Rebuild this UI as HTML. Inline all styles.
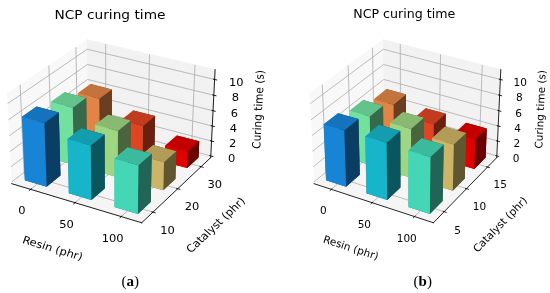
<!DOCTYPE html>
<html><head><meta charset="utf-8"><style>
html,body{margin:0;padding:0;background:#fff;}
body{width:550px;height:293px;position:relative;overflow:hidden;}
svg.p{position:absolute;overflow:visible;}
.lab{position:absolute;font-family:"Liberation Serif","DejaVu Serif",serif;font-size:15px;line-height:1;color:#000;white-space:nowrap;}
.lab b{font-weight:bold;}
</style></head><body>
<svg class="p" style="left:-119.24px;top:-80.76px;width:457.96px;height:421.52px" preserveAspectRatio="none" width="457.96" height="421.52" viewBox="0 0 400 400" version="1.1">
 
 <defs>
  <style type="text/css">*{stroke-linejoin: round; stroke-linecap: butt}</style>
 </defs>
 <g id="a_figure_1">
  <g id="a_pane3d_1">
   <g id="a_patch_1">
    <path d="M 114.252393 251.193274 
L 180.95939 195.278146 
L 180.032099 114.638536 
L 110.132828 165.64784 
" style="fill: #f2f2f2; opacity: 0.5; stroke: #f2f2f2; stroke-linejoin: miter"/>
   </g>
  </g>
  <g id="a_pane3d_2">
   <g id="a_patch_2">
    <path d="M 180.95939 195.278146 
L 288.000319 226.390718 
L 291.820233 142.973569 
L 180.032099 114.638536 
" style="fill: #e6e6e6; opacity: 0.5; stroke: #e6e6e6; stroke-linejoin: miter"/>
   </g>
  </g>
  <g id="a_pane3d_3">
   <g id="a_patch_3">
    <path d="M 114.252393 251.193274 
L 227.721006 288.252122 
L 288.000319 226.390718 
L 180.95939 195.278146 
" style="fill: #ececec; opacity: 0.5; stroke: #ececec; stroke-linejoin: miter"/>
   </g>
  </g>
  <g id="a_grid3d_1">
   <g id="a_Line3DCollection_1">
    <path d="M 130.62309 256.539943 
L 196.46117 199.783901 
L 196.192169 118.734643 
" style="fill: none; stroke: #b0b0b0; stroke-width: 0.8"/>
    <path d="M 169.491011 269.234206 
L 233.186965 210.45864 
L 234.516976 128.448864 
" style="fill: none; stroke: #b0b0b0; stroke-width: 0.8"/>
    <path d="M 209.816583 282.404538 
L 271.172841 221.499635 
L 274.215176 138.511201 
" style="fill: none; stroke: #b0b0b0; stroke-width: 0.8"/>
   </g>
  </g>
  <g id="a_grid3d_2">
   <g id="a_Line3DCollection_2">
    <path d="M 121.503754 157.349856 
L 125.069555 242.126114 
L 237.532071 278.183556 
" style="fill: none; stroke: #b0b0b0; stroke-width: 0.8"/>
    <path d="M 146.637346 139.008506 
L 149.026559 222.044878 
L 259.210845 255.935801 
" style="fill: none; stroke: #b0b0b0; stroke-width: 0.8"/>
    <path d="M 170.256598 121.772252 
L 171.599821 203.123523 
L 279.57466 235.037517 
" style="fill: none; stroke: #b0b0b0; stroke-width: 0.8"/>
   </g>
  </g>
  <g id="a_grid3d_3">
   <g id="a_Line3DCollection_3">
    <path d="M 288.073504 224.792538 
L 180.941587 193.729978 
L 114.173597 249.557026 
" style="fill: none; stroke: #b0b0b0; stroke-width: 0.8"/>
    <path d="M 288.717585 210.727459 
L 180.784974 180.110446 
L 113.47992 235.152372 
" style="fill: none; stroke: #b0b0b0; stroke-width: 0.8"/>
    <path d="M 289.371462 196.44847 
L 180.626092 166.293701 
L 112.77529 220.520268 
" style="fill: none; stroke: #b0b0b0; stroke-width: 0.8"/>
    <path d="M 290.035359 181.950654 
L 180.464893 152.275429 
L 112.059445 205.655284 
" style="fill: none; stroke: #b0b0b0; stroke-width: 0.8"/>
    <path d="M 290.709509 167.228942 
L 180.301326 138.051187 
L 111.332115 190.551815 
" style="fill: none; stroke: #b0b0b0; stroke-width: 0.8"/>
    <path d="M 291.394151 152.278107 
L 180.135337 123.616404 
L 110.593023 175.204075 
" style="fill: none; stroke: #b0b0b0; stroke-width: 0.8"/>
   </g>
  </g>
  <g id="a_axis3d_1">
   <g id="a_line2d_1">
    <path d="M 114.252393 251.193274 
L 227.721006 288.252122 
" style="fill: none; stroke: #000000; stroke-width: 0.8; stroke-linecap: square"/>
   </g>
   <g id="a_xtick_1">
    <g id="a_line2d_2">
     <path d="M 131.196615 256.045533 
L 129.473569 257.530894 
" style="fill: none; stroke: #000000; stroke-width: 0.8; stroke-linecap: square"/>
    </g>
    <g id="a_text_1">
     <text style="font-size: 10px; font-family: 'DejaVu Sans', sans-serif; text-anchor: middle" x="123.097701" y="279.954349" transform="rotate(-0 123.097701 279.954349)">0</text>
    </g>
   </g>
   <g id="a_xtick_2">
    <g id="a_line2d_3">
     <path d="M 170.046709 268.721435 
L 168.377177 270.261999 
" style="fill: none; stroke: #000000; stroke-width: 0.8; stroke-linecap: square"/>
    </g>
    <g id="a_text_2">
     <text style="font-size: 10px; font-family: 'DejaVu Sans', sans-serif; text-anchor: middle" x="162.021384" y="293.004861" transform="rotate(-0 162.021384 293.004861)">50</text>
    </g>
   </g>
   <g id="a_xtick_3">
    <g id="a_line2d_4">
     <path d="M 210.352701 281.872364 
L 208.741949 283.471266 
" style="fill: none; stroke: #000000; stroke-width: 0.8; stroke-linecap: square"/>
    </g>
    <g id="a_text_3">
     <text style="font-size: 10px; font-family: 'DejaVu Sans', sans-serif; text-anchor: middle" x="202.412269" y="306.547304" transform="rotate(-0 202.412269 306.547304)">100</text>
    </g>
   </g>
   <g id="a_text_4">
    <text style="font-size: 10px; font-family: 'DejaVu Sans', sans-serif; text-anchor: middle" x="148.937" y="315.716" transform="rotate(-341.912962 148.937 315.716)">Resin (phr)</text>
   </g>
  </g>
  <g id="a_axis3d_2">
   <g id="a_line2d_5">
    <path d="M 288.000319 226.390718 
L 227.721006 288.252122 
" style="fill: none; stroke: #000000; stroke-width: 0.8; stroke-linecap: square"/>
   </g>
   <g id="a_xtick_4">
    <g id="a_line2d_6">
     <path d="M 236.584734 277.879823 
L 239.429176 278.791801 
" style="fill: none; stroke: #000000; stroke-width: 0.8; stroke-linecap: square"/>
    </g>
    <g id="a_text_5">
     <text style="font-size: 10px; font-family: 'DejaVu Sans', sans-serif; text-anchor: middle" x="250.315498" y="299.094854" transform="rotate(-0 250.315498 299.094854)">10</text>
    </g>
   </g>
   <g id="a_xtick_5">
    <g id="a_line2d_7">
     <path d="M 258.284158 255.650766 
L 261.066523 256.506577 
" style="fill: none; stroke: #000000; stroke-width: 0.8; stroke-linecap: square"/>
    </g>
    <g id="a_text_6">
     <text style="font-size: 10px; font-family: 'DejaVu Sans', sans-serif; text-anchor: middle" x="271.610579" y="276.413533" transform="rotate(-0 271.610579 276.413533)">20</text>
    </g>
   </g>
   <g id="a_xtick_6">
    <g id="a_line2d_8">
     <path d="M 278.667898 234.769506 
L 281.390369 235.574184 
" style="fill: none; stroke: #000000; stroke-width: 0.8; stroke-linecap: square"/>
    </g>
    <g id="a_text_7">
     <text style="font-size: 10px; font-family: 'DejaVu Sans', sans-serif; text-anchor: middle" x="291.613024" y="255.108993" transform="rotate(-0 291.613024 255.108993)">30</text>
    </g>
   </g>
   <g id="a_text_8">
    <text style="font-size: 10px; font-family: 'DejaVu Sans', sans-serif; text-anchor: middle" x="294.718" y="292.812" transform="rotate(-45.742112 294.718 292.812)">Catalyst (phr)</text>
   </g>
  </g>
  <g id="a_axis3d_3">
   <g id="a_line2d_9">
    <path d="M 288.000319 226.390718 
L 291.820233 142.973569 
" style="fill: none; stroke: #000000; stroke-width: 0.8; stroke-linecap: square"/>
   </g>
   <g id="a_xtick_7">
    <g id="a_line2d_10">
     <path d="M 287.174336 224.531827 
L 289.873981 225.31458 
" style="fill: none; stroke: #000000; stroke-width: 0.8; stroke-linecap: square"/>
    </g>
    <g id="a_text_9">
     <text style="font-size: 10px; font-family: 'DejaVu Sans', sans-serif; text-anchor: middle" x="306.320" y="230.599" transform="rotate(-0 306.320 230.599)">0</text>
    </g>
   </g>
   <g id="a_xtick_8">
    <g id="a_line2d_11">
     <path d="M 287.811377 210.470397 
L 290.532175 211.2422 
" style="fill: none; stroke: #000000; stroke-width: 0.8; stroke-linecap: square"/>
    </g>
    <g id="a_text_10">
     <text style="font-size: 10px; font-family: 'DejaVu Sans', sans-serif; text-anchor: middle" x="307.099" y="216.571" transform="rotate(-0 307.099 216.571)">2</text>
    </g>
   </g>
   <g id="a_xtick_9">
    <g id="a_line2d_12">
     <path d="M 288.458102 196.195198 
L 291.200388 196.955626 
" style="fill: none; stroke: #000000; stroke-width: 0.8; stroke-linecap: square"/>
    </g>
    <g id="a_text_11">
     <text style="font-size: 10px; font-family: 'DejaVu Sans', sans-serif; text-anchor: middle" x="307.889" y="202.329" transform="rotate(-0 307.889 202.329)">4</text>
    </g>
   </g>
   <g id="a_xtick_10">
    <g id="a_line2d_13">
     <path d="M 289.114734 181.701319 
L 291.87885 182.449931 
" style="fill: none; stroke: #000000; stroke-width: 0.8; stroke-linecap: square"/>
    </g>
    <g id="a_text_12">
     <text style="font-size: 10px; font-family: 'DejaVu Sans', sans-serif; text-anchor: middle" x="308.692" y="187.871" transform="rotate(-0 308.692 187.871)">6</text>
    </g>
   </g>
   <g id="a_xtick_11">
    <g id="a_line2d_14">
     <path d="M 289.781503 166.983696 
L 292.567798 167.720035 
" style="fill: none; stroke: #000000; stroke-width: 0.8; stroke-linecap: square"/>
    </g>
    <g id="a_text_13">
     <text style="font-size: 10px; font-family: 'DejaVu Sans', sans-serif; text-anchor: middle" x="309.507" y="173.190" transform="rotate(-0 309.507 173.190)">8</text>
    </g>
   </g>
   <g id="a_xtick_12">
    <g id="a_line2d_15">
     <path d="M 290.458644 152.037108 
L 293.267477 152.7607 
" style="fill: none; stroke: #000000; stroke-width: 0.8; stroke-linecap: square"/>
    </g>
    <g id="a_text_14">
     <text style="font-size: 10px; font-family: 'DejaVu Sans', sans-serif; text-anchor: middle" x="310.334" y="158.282" transform="rotate(-0 310.334 158.282)">10</text>
    </g>
   </g>
   <g id="a_text_15">
    <text style="font-size: 10px; font-family: 'DejaVu Sans', sans-serif; text-anchor: middle" x="332.916" y="180.799" transform="rotate(-87.378092 332.916 180.799)">Curing time (s)</text>
   </g>
  </g>
  <g id="a_axes_1">
   <g id="a_Poly3DCollection_1">
    <path d="M 172.648293 208.14711 
L 183.55725 198.91806 
L 201.693671 204.213772 
L 190.95904 213.599271 
z
" clip-path="url(#a_p4ff11a3262)" style="fill: #88502a"/>
    <path d="M 183.55725 198.91806 
L 183.128468 156.659012 
L 201.670302 161.712116 
L 201.693671 204.213772 
z
" clip-path="url(#a_p4ff11a3262)" style="fill: #6a3e21"/>
    <path d="M 172.648293 208.14711 
L 171.965492 165.466485 
L 183.128468 156.659012 
L 183.55725 198.91806 
z
" clip-path="url(#a_p4ff11a3262)" style="fill: #e18446"/>
    <path d="M 190.95904 213.599271 
L 201.693671 204.213772 
L 201.670302 161.712116 
L 190.689541 170.6723 
z
" clip-path="url(#a_p4ff11a3262)" style="fill: #6a3e21"/>
    <path d="M 209.583814 219.144936 
L 220.136576 209.598976 
L 238.893799 215.075958 
L 228.53076 224.786531 
z
" clip-path="url(#a_p4ff11a3262)" style="fill: #882915"/>
    <path d="M 220.136576 209.598976 
L 220.395761 181.622722 
L 239.436934 186.939984 
L 238.893799 215.075958 
z
" clip-path="url(#a_p4ff11a3262)" style="fill: #6a2010"/>
    <path d="M 172.648293 208.14711 
L 190.95904 213.599271 
L 190.689541 170.6723 
L 171.965492 165.466485 
z
" clip-path="url(#a_p4ff11a3262)" style="fill: #e18446"/>
    <path d="M 209.583814 219.144936 
L 209.687408 190.891176 
L 220.395761 181.622722 
L 220.136576 209.598976 
z
" clip-path="url(#a_p4ff11a3262)" style="fill: #e14423"/>
    <path d="M 171.965492 165.466485 
L 190.689541 170.6723 
L 201.670302 161.712116 
L 183.128468 156.659012 
z
" clip-path="url(#a_p4ff11a3262)" style="fill: #c3733c"/>
    <path d="M 228.53076 224.786531 
L 238.893799 215.075958 
L 239.436934 186.939984 
L 228.924149 196.370694 
z
" clip-path="url(#a_p4ff11a3262)" style="fill: #6a2010"/>
    <path d="M 149.845889 227.438093 
L 161.416035 217.649673 
L 179.903531 223.265321 
L 168.512537 233.224691 
z
" clip-path="url(#a_p4ff11a3262)" style="fill: #458860"/>
    <path d="M 257.973446 220.647086 
L 258.425307 205.369275 
L 277.999866 210.950223 
L 277.383901 226.314807 
z
" clip-path="url(#a_p4ff11a3262)" style="fill: #6a0000"/>
    <path d="M 209.583814 219.144936 
L 228.53076 224.786531 
L 228.924149 196.370694 
L 209.687408 190.891176 
z
" clip-path="url(#a_p4ff11a3262)" style="fill: #e14423"/>
    <path d="M 209.687408 190.891176 
L 228.924149 196.370694 
L 239.436934 186.939984 
L 220.395761 181.622722 
z
" clip-path="url(#a_p4ff11a3262)" style="fill: #c33b1e"/>
    <path d="M 247.808313 230.526565 
L 248.182647 215.09801 
L 258.425307 205.369275 
L 257.973446 220.647086 
z
" clip-path="url(#a_p4ff11a3262)" style="fill: #e10000"/>
    <path d="M 247.808313 230.526565 
L 257.973446 220.647086 
L 277.383901 226.314807 
L 267.4252 236.36764 
z
" clip-path="url(#a_p4ff11a3262)" style="fill: #880000"/>
    <path d="M 161.416035 217.649673 
L 160.240232 164.405065 
L 179.248122 169.709312 
L 179.903531 223.265321 
z
" clip-path="url(#a_p4ff11a3262)" style="fill: #366a4b"/>
    <path d="M 149.845889 227.438093 
L 148.317503 173.652382 
L 160.240232 164.405065 
L 161.416035 217.649673 
z
" clip-path="url(#a_p4ff11a3262)" style="fill: #72e19f"/>
    <path d="M 248.182647 215.09801 
L 267.967202 220.85109 
L 277.999866 210.950223 
L 258.425307 205.369275 
z
" clip-path="url(#a_p4ff11a3262)" style="fill: #c30000"/>
    <path d="M 267.4252 236.36764 
L 277.383901 226.314807 
L 277.999866 210.950223 
L 267.967202 220.85109 
z
" clip-path="url(#a_p4ff11a3262)" style="fill: #6a0000"/>
    <path d="M 247.808313 230.526565 
L 267.4252 236.36764 
L 267.967202 220.85109 
L 248.182647 215.09801 
z
" clip-path="url(#a_p4ff11a3262)" style="fill: #e10000"/>
    <path d="M 187.509114 239.113567 
L 198.712863 228.978727 
L 217.85251 234.792468 
L 206.844445 245.107455 
z
" clip-path="url(#a_p4ff11a3262)" style="fill: #5f8150"/>
    <path d="M 168.512537 233.224691 
L 179.903531 223.265321 
L 179.248122 169.709312 
L 167.514717 179.122824 
z
" clip-path="url(#a_p4ff11a3262)" style="fill: #366a4b"/>
    <path d="M 198.712863 228.978727 
L 198.61929 185.661296 
L 218.207964 191.222393 
L 217.85251 234.792468 
z
" clip-path="url(#a_p4ff11a3262)" style="fill: #4a653e"/>
    <path d="M 149.845889 227.438093 
L 168.512537 233.224691 
L 167.514717 179.122824 
L 148.317503 173.652382 
z
" clip-path="url(#a_p4ff11a3262)" style="fill: #72e19f"/>
    <path d="M 187.509114 239.113567 
L 187.148991 195.357188 
L 198.61929 185.661296 
L 198.712863 228.978727 
z
" clip-path="url(#a_p4ff11a3262)" style="fill: #9ed684"/>
    <path d="M 148.317503 173.652382 
L 167.514717 179.122824 
L 179.248122 169.709312 
L 160.240232 164.405065 
z
" clip-path="url(#a_p4ff11a3262)" style="fill: #63c38a"/>
    <path d="M 125.629056 247.925694 
L 137.922376 237.525464 
L 156.770552 243.49094 
L 144.661101 254.078472 
z
" clip-path="url(#a_p4ff11a3262)" style="fill: #0e5081"/>
    <path d="M 206.844445 245.107455 
L 217.85251 234.792468 
L 218.207964 191.222393 
L 206.942688 201.094732 
z
" clip-path="url(#a_p4ff11a3262)" style="fill: #4a653e"/>
    <path d="M 237.331249 240.70921 
L 237.821206 214.544782 
L 257.935864 220.416151 
L 257.158172 246.731713 
z
" clip-path="url(#a_p4ff11a3262)" style="fill: #605630"/>
    <path d="M 226.527673 251.209191 
L 237.331249 240.70921 
L 257.158172 246.731713 
L 246.568273 257.42171 
z
" clip-path="url(#a_p4ff11a3262)" style="fill: #7b6e3d"/>
    <path d="M 187.509114 239.113567 
L 206.844445 245.107455 
L 206.942688 201.094732 
L 187.148991 195.357188 
z
" clip-path="url(#a_p4ff11a3262)" style="fill: #9ed684"/>
    <path d="M 226.527673 251.209191 
L 226.869978 224.782228 
L 237.821206 214.544782 
L 237.331249 240.70921 
z
" clip-path="url(#a_p4ff11a3262)" style="fill: #ccb566"/>
    <path d="M 137.922376 237.525464 
L 135.835937 177.934854 
L 155.277331 183.546873 
L 156.770552 243.49094 
z
" clip-path="url(#a_p4ff11a3262)" style="fill: #0b3e65"/>
    <path d="M 187.148991 195.357188 
L 206.942688 201.094732 
L 218.207964 191.222393 
L 198.61929 185.661296 
z
" clip-path="url(#a_p4ff11a3262)" style="fill: #89ba73"/>
    <path d="M 125.629056 247.925694 
L 123.107087 187.720949 
L 135.835937 177.934854 
L 137.922376 237.525464 
z
" clip-path="url(#a_p4ff11a3262)" style="fill: #1784d6"/>
    <path d="M 246.568273 257.42171 
L 257.158172 246.731713 
L 257.935864 220.416151 
L 247.204645 230.841542 
z
" clip-path="url(#a_p4ff11a3262)" style="fill: #605630"/>
    <path d="M 164.040156 260.343434 
L 175.957045 249.563494 
L 195.491045 255.746035 
L 183.775801 266.723676 
z
" clip-path="url(#a_p4ff11a3262)" style="fill: #0d6e79"/>
    <path d="M 226.869978 224.782228 
L 247.204645 230.841542 
L 257.935864 220.416151 
L 237.821206 214.544782 
z
" clip-path="url(#a_p4ff11a3262)" style="fill: #b19d58"/>
    <path d="M 226.527673 251.209191 
L 246.568273 257.42171 
L 247.204645 230.841542 
L 226.869978 224.782228 
z
" clip-path="url(#a_p4ff11a3262)" style="fill: #ccb566"/>
    <path d="M 144.661101 254.078472 
L 156.770552 243.49094 
L 155.277331 183.546873 
L 142.743946 193.51501 
z
" clip-path="url(#a_p4ff11a3262)" style="fill: #0b3e65"/>
    <path d="M 175.957045 249.563494 
L 175.214967 198.592856 
L 195.288537 204.473852 
L 195.491045 255.746035 
z
" clip-path="url(#a_p4ff11a3262)" style="fill: #0a565f"/>
    <path d="M 125.629056 247.925694 
L 144.661101 254.078472 
L 142.743946 193.51501 
L 123.107087 187.720949 
z
" clip-path="url(#a_p4ff11a3262)" style="fill: #1784d6"/>
    <path d="M 164.040156 260.343434 
L 162.95036 208.848935 
L 175.214967 198.592856 
L 175.957045 249.563494 
z
" clip-path="url(#a_p4ff11a3262)" style="fill: #16b5c9"/>
    <path d="M 123.107087 187.720949 
L 142.743946 193.51501 
L 155.277331 183.546873 
L 135.835937 177.934854 
z
" clip-path="url(#a_p4ff11a3262)" style="fill: #1473ba"/>
    <path d="M 203.877967 273.22241 
L 215.38208 262.041578 
L 235.640029 268.45325 
L 224.356962 279.842966 
z
" clip-path="url(#a_p4ff11a3262)" style="fill: #29816e"/>
    <path d="M 183.775801 266.723676 
L 195.491045 255.746035 
L 195.288537 204.473852 
L 183.23686 214.923355 
z
" clip-path="url(#a_p4ff11a3262)" style="fill: #0a565f"/>
    <path d="M 164.040156 260.343434 
L 183.775801 266.723676 
L 183.23686 214.923355 
L 162.95036 208.848935 
z
" clip-path="url(#a_p4ff11a3262)" style="fill: #16b5c9"/>
    <path d="M 215.38208 262.041578 
L 215.696102 216.710642 
L 236.464561 222.854385 
L 235.640029 268.45325 
z
" clip-path="url(#a_p4ff11a3262)" style="fill: #206556"/>
    <path d="M 203.877967 273.22241 
L 203.906936 227.426077 
L 215.696102 216.710642 
L 215.38208 262.041578 
z
" clip-path="url(#a_p4ff11a3262)" style="fill: #44d6b6"/>
    <path d="M 162.95036 208.848935 
L 183.23686 214.923355 
L 195.288537 204.473852 
L 175.214967 198.592856 
z
" clip-path="url(#a_p4ff11a3262)" style="fill: #139dae"/>
    <path d="M 224.356962 279.842966 
L 235.640029 268.45325 
L 236.464561 222.854385 
L 224.90783 233.775091 
z
" clip-path="url(#a_p4ff11a3262)" style="fill: #206556"/>
    <path d="M 203.877967 273.22241 
L 224.356962 279.842966 
L 224.90783 233.775091 
L 203.906936 227.426077 
z
" clip-path="url(#a_p4ff11a3262)" style="fill: #44d6b6"/>
    <path d="M 203.906936 227.426077 
L 224.90783 233.775091 
L 236.464561 222.854385 
L 215.696102 216.710642 
z
" clip-path="url(#a_p4ff11a3262)" style="fill: #3bba9e"/>
   </g>
   <g id="a_text_16">
    <text style="font-size: 12px; font-family: 'DejaVu Sans', sans-serif; text-anchor: middle" x="200.000" y="94.423" transform="rotate(-0 200.000 94.423)">NCP curing time</text>
   </g>
  </g>
 </g>
 <defs>
  <clipPath id="a_p4ff11a3262">
   <rect x="99" y="99" width="202" height="202"/>
  </clipPath>
 </defs>
</svg>

<svg class="p" style="left:193.66px;top:-80.76px;width:420.52px;height:421.52px" preserveAspectRatio="none" width="420.52" height="421.52" viewBox="0 0 400 400" version="1.1">
 
 <defs>
  <style type="text/css">*{stroke-linejoin: round; stroke-linecap: butt}</style>
 </defs>
 <g id="b_figure_1">
  <g id="b_pane3d_1">
   <g id="b_patch_1">
    <path d="M 114.252393 251.193274 
L 180.95939 195.278146 
L 180.032099 114.638536 
L 110.132828 165.64784 
" style="fill: #f2f2f2; opacity: 0.5; stroke: #f2f2f2; stroke-linejoin: miter"/>
   </g>
  </g>
  <g id="b_pane3d_2">
   <g id="b_patch_2">
    <path d="M 180.95939 195.278146 
L 288.000319 226.390718 
L 291.820233 142.973569 
L 180.032099 114.638536 
" style="fill: #e6e6e6; opacity: 0.5; stroke: #e6e6e6; stroke-linejoin: miter"/>
   </g>
  </g>
  <g id="b_pane3d_3">
   <g id="b_patch_3">
    <path d="M 114.252393 251.193274 
L 227.721006 288.252122 
L 288.000319 226.390718 
L 180.95939 195.278146 
" style="fill: #ececec; opacity: 0.5; stroke: #ececec; stroke-linejoin: miter"/>
   </g>
  </g>
  <g id="b_grid3d_1">
   <g id="b_Line3DCollection_1">
    <path d="M 130.62309 256.539943 
L 196.46117 199.783901 
L 196.192169 118.734643 
" style="fill: none; stroke: #b0b0b0; stroke-width: 0.8"/>
    <path d="M 169.491011 269.234206 
L 233.186965 210.45864 
L 234.516976 128.448864 
" style="fill: none; stroke: #b0b0b0; stroke-width: 0.8"/>
    <path d="M 209.816583 282.404538 
L 271.172841 221.499635 
L 274.215176 138.511201 
" style="fill: none; stroke: #b0b0b0; stroke-width: 0.8"/>
   </g>
  </g>
  <g id="b_grid3d_2">
   <g id="b_Line3DCollection_2">
    <path d="M 122.012049 156.978926 
L 125.553407 241.72054 
L 237.970592 277.733526 
" style="fill: none; stroke: #b0b0b0; stroke-width: 0.8"/>
    <path d="M 146.637346 139.008506 
L 149.026559 222.044878 
L 259.210845 255.935801 
" style="fill: none; stroke: #b0b0b0; stroke-width: 0.8"/>
    <path d="M 169.807162 122.10023 
L 171.169747 203.484019 
L 279.187249 235.435096 
" style="fill: none; stroke: #b0b0b0; stroke-width: 0.8"/>
   </g>
  </g>
  <g id="b_grid3d_3">
   <g id="b_Line3DCollection_3">
    <path d="M 288.073504 224.792538 
L 180.941587 193.729978 
L 114.173597 249.557026 
" style="fill: none; stroke: #b0b0b0; stroke-width: 0.8"/>
    <path d="M 288.717585 210.727459 
L 180.784974 180.110446 
L 113.47992 235.152372 
" style="fill: none; stroke: #b0b0b0; stroke-width: 0.8"/>
    <path d="M 289.371462 196.44847 
L 180.626092 166.293701 
L 112.77529 220.520268 
" style="fill: none; stroke: #b0b0b0; stroke-width: 0.8"/>
    <path d="M 290.035359 181.950654 
L 180.464893 152.275429 
L 112.059445 205.655284 
" style="fill: none; stroke: #b0b0b0; stroke-width: 0.8"/>
    <path d="M 290.709509 167.228942 
L 180.301326 138.051187 
L 111.332115 190.551815 
" style="fill: none; stroke: #b0b0b0; stroke-width: 0.8"/>
    <path d="M 291.394151 152.278107 
L 180.135337 123.616404 
L 110.593023 175.204075 
" style="fill: none; stroke: #b0b0b0; stroke-width: 0.8"/>
   </g>
  </g>
  <g id="b_axis3d_1">
   <g id="b_line2d_1">
    <path d="M 114.252393 251.193274 
L 227.721006 288.252122 
" style="fill: none; stroke: #000000; stroke-width: 0.8; stroke-linecap: square"/>
   </g>
   <g id="b_xtick_1">
    <g id="b_line2d_2">
     <path d="M 131.196615 256.045533 
L 129.473569 257.530894 
" style="fill: none; stroke: #000000; stroke-width: 0.8; stroke-linecap: square"/>
    </g>
    <g id="b_text_1">
     <text style="font-size: 10px; font-family: 'DejaVu Sans', sans-serif; text-anchor: middle" x="123.097701" y="279.954349" transform="rotate(-0 123.097701 279.954349)">0</text>
    </g>
   </g>
   <g id="b_xtick_2">
    <g id="b_line2d_3">
     <path d="M 170.046709 268.721435 
L 168.377177 270.261999 
" style="fill: none; stroke: #000000; stroke-width: 0.8; stroke-linecap: square"/>
    </g>
    <g id="b_text_2">
     <text style="font-size: 10px; font-family: 'DejaVu Sans', sans-serif; text-anchor: middle" x="162.021384" y="293.004861" transform="rotate(-0 162.021384 293.004861)">50</text>
    </g>
   </g>
   <g id="b_xtick_3">
    <g id="b_line2d_4">
     <path d="M 210.352701 281.872364 
L 208.741949 283.471266 
" style="fill: none; stroke: #000000; stroke-width: 0.8; stroke-linecap: square"/>
    </g>
    <g id="b_text_3">
     <text style="font-size: 10px; font-family: 'DejaVu Sans', sans-serif; text-anchor: middle" x="202.412269" y="306.547304" transform="rotate(-0 202.412269 306.547304)">100</text>
    </g>
   </g>
   <g id="b_text_4">
    <text style="font-size: 10px; font-family: 'DejaVu Sans', sans-serif; text-anchor: middle" x="148.257" y="315.194" transform="rotate(-341.912962 148.257 315.194)">Resin (phr)</text>
   </g>
  </g>
  <g id="b_axis3d_2">
   <g id="b_line2d_5">
    <path d="M 288.000319 226.390718 
L 227.721006 288.252122 
" style="fill: none; stroke: #000000; stroke-width: 0.8; stroke-linecap: square"/>
   </g>
   <g id="b_xtick_4">
    <g id="b_line2d_6">
     <path d="M 237.023666 277.430177 
L 239.86687 278.341001 
" style="fill: none; stroke: #000000; stroke-width: 0.8; stroke-linecap: square"/>
    </g>
    <g id="b_text_5">
     <text style="font-size: 10px; font-family: 'DejaVu Sans', sans-serif; text-anchor: middle" x="250.746268" y="298.636043" transform="rotate(-0 250.746268 298.636043)">5</text>
    </g>
   </g>
   <g id="b_xtick_5">
    <g id="b_line2d_7">
     <path d="M 258.284158 255.650766 
L 261.066523 256.506577 
" style="fill: none; stroke: #000000; stroke-width: 0.8; stroke-linecap: square"/>
    </g>
    <g id="b_text_6">
     <text style="font-size: 10px; font-family: 'DejaVu Sans', sans-serif; text-anchor: middle" x="271.610579" y="276.413533" transform="rotate(-0 271.610579 276.413533)">10</text>
    </g>
   </g>
   <g id="b_xtick_6">
    <g id="b_line2d_8">
     <path d="M 278.280103 235.166766 
L 281.003728 235.972402 
" style="fill: none; stroke: #000000; stroke-width: 0.8; stroke-linecap: square"/>
    </g>
    <g id="b_text_7">
     <text style="font-size: 10px; font-family: 'DejaVu Sans', sans-serif; text-anchor: middle" x="291.232496" y="255.514292" transform="rotate(-0 291.232496 255.514292)">15</text>
    </g>
   </g>
   <g id="b_text_8">
    <text style="font-size: 10px; font-family: 'DejaVu Sans', sans-serif; text-anchor: middle" x="293.589" y="292.338" transform="rotate(-45.742112 293.589 292.338)">Catalyst (phr)</text>
   </g>
  </g>
  <g id="b_axis3d_3">
   <g id="b_line2d_9">
    <path d="M 288.000319 226.390718 
L 291.820233 142.973569 
" style="fill: none; stroke: #000000; stroke-width: 0.8; stroke-linecap: square"/>
   </g>
   <g id="b_xtick_7">
    <g id="b_line2d_10">
     <path d="M 287.174336 224.531827 
L 289.873981 225.31458 
" style="fill: none; stroke: #000000; stroke-width: 0.8; stroke-linecap: square"/>
    </g>
    <g id="b_text_9">
     <text style="font-size: 10px; font-family: 'DejaVu Sans', sans-serif; text-anchor: middle" x="306.320" y="230.599" transform="rotate(-0 306.320 230.599)">0</text>
    </g>
   </g>
   <g id="b_xtick_8">
    <g id="b_line2d_11">
     <path d="M 287.811377 210.470397 
L 290.532175 211.2422 
" style="fill: none; stroke: #000000; stroke-width: 0.8; stroke-linecap: square"/>
    </g>
    <g id="b_text_10">
     <text style="font-size: 10px; font-family: 'DejaVu Sans', sans-serif; text-anchor: middle" x="307.099" y="216.571" transform="rotate(-0 307.099 216.571)">2</text>
    </g>
   </g>
   <g id="b_xtick_9">
    <g id="b_line2d_12">
     <path d="M 288.458102 196.195198 
L 291.200388 196.955626 
" style="fill: none; stroke: #000000; stroke-width: 0.8; stroke-linecap: square"/>
    </g>
    <g id="b_text_11">
     <text style="font-size: 10px; font-family: 'DejaVu Sans', sans-serif; text-anchor: middle" x="307.889" y="202.329" transform="rotate(-0 307.889 202.329)">4</text>
    </g>
   </g>
   <g id="b_xtick_10">
    <g id="b_line2d_13">
     <path d="M 289.114734 181.701319 
L 291.87885 182.449931 
" style="fill: none; stroke: #000000; stroke-width: 0.8; stroke-linecap: square"/>
    </g>
    <g id="b_text_12">
     <text style="font-size: 10px; font-family: 'DejaVu Sans', sans-serif; text-anchor: middle" x="308.692" y="187.871" transform="rotate(-0 308.692 187.871)">6</text>
    </g>
   </g>
   <g id="b_xtick_11">
    <g id="b_line2d_14">
     <path d="M 289.781503 166.983696 
L 292.567798 167.720035 
" style="fill: none; stroke: #000000; stroke-width: 0.8; stroke-linecap: square"/>
    </g>
    <g id="b_text_13">
     <text style="font-size: 10px; font-family: 'DejaVu Sans', sans-serif; text-anchor: middle" x="309.507" y="173.190" transform="rotate(-0 309.507 173.190)">8</text>
    </g>
   </g>
   <g id="b_xtick_12">
    <g id="b_line2d_15">
     <path d="M 290.458644 152.037108 
L 293.267477 152.7607 
" style="fill: none; stroke: #000000; stroke-width: 0.8; stroke-linecap: square"/>
    </g>
    <g id="b_text_14">
     <text style="font-size: 10px; font-family: 'DejaVu Sans', sans-serif; text-anchor: middle" x="310.334" y="158.282" transform="rotate(-0 310.334 158.282)">10</text>
    </g>
   </g>
   <g id="b_text_15">
    <text style="font-size: 10px; font-family: 'DejaVu Sans', sans-serif; text-anchor: middle" x="332.916" y="180.761" transform="rotate(-87.378092 332.916 180.761)">Curing time (s)</text>
   </g>
  </g>
  <g id="b_axes_1">
   <g id="b_Poly3DCollection_1">
    <path d="M 171.779199 208.882368 
L 183.55725 198.91806 
L 201.693671 204.213772 
L 190.103723 214.347092 
z
" clip-path="url(#b_p4ff11a3262)" style="fill: #88502a"/>
    <path d="M 183.55725 198.91806 
L 183.176657 161.408291 
L 201.672928 166.489455 
L 201.693671 204.213772 
z
" clip-path="url(#b_p4ff11a3262)" style="fill: #6a3e21"/>
    <path d="M 171.779199 208.882368 
L 171.154919 170.970312 
L 183.176657 161.408291 
L 183.55725 198.91806 
z
" clip-path="url(#b_p4ff11a3262)" style="fill: #e18446"/>
    <path d="M 190.103723 214.347092 
L 201.693671 204.213772 
L 201.672928 166.489455 
L 189.846841 176.216953 
z
" clip-path="url(#b_p4ff11a3262)" style="fill: #6a3e21"/>
    <path d="M 220.136576 209.598976 
L 220.414804 179.567163 
L 239.476846 184.872408 
L 238.893799 215.075958 
z
" clip-path="url(#b_p4ff11a3262)" style="fill: #6a2010"/>
    <path d="M 208.742874 219.905645 
L 220.136576 209.598976 
L 238.893799 215.075958 
L 227.704826 225.560463 
z
" clip-path="url(#b_p4ff11a3262)" style="fill: #882915"/>
    <path d="M 171.779199 208.882368 
L 190.103723 214.347092 
L 189.846841 176.216953 
L 171.154919 170.970312 
z
" clip-path="url(#b_p4ff11a3262)" style="fill: #e18446"/>
    <path d="M 171.154919 170.970312 
L 189.846841 176.216953 
L 201.672928 166.489455 
L 183.176657 161.408291 
z
" clip-path="url(#b_p4ff11a3262)" style="fill: #c3733c"/>
    <path d="M 208.742874 219.905645 
L 208.840553 189.551854 
L 220.414804 179.567163 
L 220.136576 209.598976 
z
" clip-path="url(#b_p4ff11a3262)" style="fill: #e14423"/>
    <path d="M 149.385062 227.827956 
L 161.862783 217.271721 
L 180.343302 222.88082 
L 168.058784 233.621417 
z
" clip-path="url(#b_p4ff11a3262)" style="fill: #458860"/>
    <path d="M 227.704826 225.560463 
L 238.893799 215.075958 
L 239.476846 184.872408 
L 228.114101 195.032191 
z
" clip-path="url(#b_p4ff11a3262)" style="fill: #6a2010"/>
    <path d="M 161.862783 217.271721 
L 160.869344 171.784232 
L 179.7943 177.128983 
L 180.343302 222.88082 
z
" clip-path="url(#b_p4ff11a3262)" style="fill: #366a4b"/>
    <path d="M 208.840553 189.551854 
L 228.114101 195.032191 
L 239.476846 184.872408 
L 220.414804 179.567163 
z
" clip-path="url(#b_p4ff11a3262)" style="fill: #c33b1e"/>
    <path d="M 208.742874 219.905645 
L 227.704826 225.560463 
L 228.114101 195.032191 
L 208.840553 189.551854 
z
" clip-path="url(#b_p4ff11a3262)" style="fill: #e14423"/>
    <path d="M 257.973446 220.647086 
L 258.782839 193.280832 
L 278.487305 198.791576 
L 277.383901 226.314807 
z
" clip-path="url(#b_p4ff11a3262)" style="fill: #6a0000"/>
    <path d="M 246.998039 231.314069 
L 257.973446 220.647086 
L 277.383901 226.314807 
L 266.631269 237.169075 
z
" clip-path="url(#b_p4ff11a3262)" style="fill: #880000"/>
    <path d="M 149.385062 227.827956 
L 148.066733 181.844829 
L 160.869344 171.784232 
L 161.862783 217.271721 
z
" clip-path="url(#b_p4ff11a3262)" style="fill: #72e19f"/>
    <path d="M 246.998039 231.314069 
L 247.657368 203.653535 
L 258.782839 193.280832 
L 257.973446 220.647086 
z
" clip-path="url(#b_p4ff11a3262)" style="fill: #e10000"/>
    <path d="M 168.058784 233.621417 
L 180.343302 222.88082 
L 179.7943 177.128983 
L 167.194249 187.369651 
z
" clip-path="url(#b_p4ff11a3262)" style="fill: #366a4b"/>
    <path d="M 266.631269 237.169075 
L 277.383901 226.314807 
L 278.487305 198.791576 
L 267.591527 209.349122 
z
" clip-path="url(#b_p4ff11a3262)" style="fill: #6a0000"/>
    <path d="M 187.062758 239.517338 
L 199.145347 228.587506 
L 218.27738 234.394348 
L 206.405824 245.518461 
z
" clip-path="url(#b_p4ff11a3262)" style="fill: #5f8150"/>
    <path d="M 247.657368 203.653535 
L 267.591527 209.349122 
L 278.487305 198.791576 
L 258.782839 193.280832 
z
" clip-path="url(#b_p4ff11a3262)" style="fill: #c30000"/>
    <path d="M 149.385062 227.827956 
L 168.058784 233.621417 
L 167.194249 187.369651 
L 148.066733 181.844829 
z
" clip-path="url(#b_p4ff11a3262)" style="fill: #72e19f"/>
    <path d="M 246.998039 231.314069 
L 266.631269 237.169075 
L 267.591527 209.349122 
L 247.657368 203.653535 
z
" clip-path="url(#b_p4ff11a3262)" style="fill: #e10000"/>
    <path d="M 199.145347 228.587506 
L 199.057794 183.157385 
L 218.660565 188.698851 
L 218.27738 234.394348 
z
" clip-path="url(#b_p4ff11a3262)" style="fill: #4a653e"/>
    <path d="M 148.066733 181.844829 
L 167.194249 187.369651 
L 179.7943 177.128983 
L 160.869344 171.784232 
z
" clip-path="url(#b_p4ff11a3262)" style="fill: #63c38a"/>
    <path d="M 187.062758 239.517338 
L 186.673596 193.589689 
L 199.057794 183.157385 
L 199.145347 228.587506 
z
" clip-path="url(#b_p4ff11a3262)" style="fill: #9ed684"/>
    <path d="M 125.629056 247.925694 
L 138.870699 236.723176 
L 157.704552 242.674326 
L 144.661101 254.078472 
z
" clip-path="url(#b_p4ff11a3262)" style="fill: #0e5081"/>
    <path d="M 206.405824 245.518461 
L 218.27738 234.394348 
L 218.660565 188.698851 
L 206.497972 199.321222 
z
" clip-path="url(#b_p4ff11a3262)" style="fill: #4a653e"/>
    <path d="M 226.097139 251.627627 
L 237.748167 240.304007 
L 257.566785 246.319238 
L 246.146193 257.84778 
z
" clip-path="url(#b_p4ff11a3262)" style="fill: #7b6e3d"/>
    <path d="M 138.870699 236.723176 
L 137.060277 184.225272 
L 156.416411 189.866934 
L 157.704552 242.674326 
z
" clip-path="url(#b_p4ff11a3262)" style="fill: #0b3e65"/>
    <path d="M 187.062758 239.517338 
L 206.405824 245.518461 
L 206.497972 199.321222 
L 186.673596 193.589689 
z
" clip-path="url(#b_p4ff11a3262)" style="fill: #9ed684"/>
    <path d="M 237.748167 240.304007 
L 238.564149 197.238713 
L 258.856252 203.001679 
L 257.566785 246.319238 
z
" clip-path="url(#b_p4ff11a3262)" style="fill: #605630"/>
    <path d="M 125.629056 247.925694 
L 123.40562 194.847568 
L 137.060277 184.225272 
L 138.870699 236.723176 
z
" clip-path="url(#b_p4ff11a3262)" style="fill: #1784d6"/>
    <path d="M 186.673596 193.589689 
L 206.497972 199.321222 
L 218.660565 188.698851 
L 199.057794 183.157385 
z
" clip-path="url(#b_p4ff11a3262)" style="fill: #89ba73"/>
    <path d="M 226.097139 251.627627 
L 226.651006 208.089439 
L 238.564149 197.238713 
L 237.748167 240.304007 
z
" clip-path="url(#b_p4ff11a3262)" style="fill: #ccb566"/>
    <path d="M 164.040156 260.343434 
L 176.876053 248.732165 
L 196.394364 254.89959 
L 183.775801 266.723676 
z
" clip-path="url(#b_p4ff11a3262)" style="fill: #0d6e79"/>
    <path d="M 144.661101 254.078472 
L 157.704552 242.674326 
L 156.416411 189.866934 
L 142.970944 200.68596 
z
" clip-path="url(#b_p4ff11a3262)" style="fill: #0b3e65"/>
    <path d="M 246.146193 257.84778 
L 257.566785 246.319238 
L 258.856252 203.001679 
L 247.184846 214.05345 
z
" clip-path="url(#b_p4ff11a3262)" style="fill: #605630"/>
    <path d="M 125.629056 247.925694 
L 144.661101 254.078472 
L 142.970944 200.68596 
L 123.40562 194.847568 
z
" clip-path="url(#b_p4ff11a3262)" style="fill: #1784d6"/>
    <path d="M 176.876053 248.732165 
L 176.125325 195.310241 
L 196.208687 201.161062 
L 196.394364 254.89959 
z
" clip-path="url(#b_p4ff11a3262)" style="fill: #0a565f"/>
    <path d="M 226.097139 251.627627 
L 246.146193 257.84778 
L 247.184846 214.05345 
L 226.651006 208.089439 
z
" clip-path="url(#b_p4ff11a3262)" style="fill: #ccb566"/>
    <path d="M 164.040156 260.343434 
L 162.897008 206.328002 
L 176.125325 195.310241 
L 176.876053 248.732165 
z
" clip-path="url(#b_p4ff11a3262)" style="fill: #16b5c9"/>
    <path d="M 123.40562 194.847568 
L 142.970944 200.68596 
L 156.416411 189.866934 
L 137.060277 184.225272 
z
" clip-path="url(#b_p4ff11a3262)" style="fill: #1473ba"/>
    <path d="M 226.651006 208.089439 
L 247.184846 214.05345 
L 258.856252 203.001679 
L 238.564149 197.238713 
z
" clip-path="url(#b_p4ff11a3262)" style="fill: #b19d58"/>
    <path d="M 203.877967 273.22241 
L 216.26898 261.179601 
L 236.509749 267.575309 
L 224.356962 279.842966 
z
" clip-path="url(#b_p4ff11a3262)" style="fill: #29816e"/>
    <path d="M 183.775801 266.723676 
L 196.394364 254.89959 
L 196.208687 201.161062 
L 183.210469 212.386761 
z
" clip-path="url(#b_p4ff11a3262)" style="fill: #0a565f"/>
    <path d="M 164.040156 260.343434 
L 183.775801 266.723676 
L 183.210469 212.386761 
L 162.897008 206.328002 
z
" clip-path="url(#b_p4ff11a3262)" style="fill: #16b5c9"/>
    <path d="M 216.26898 261.179601 
L 216.662146 208.116564 
L 237.499988 214.196636 
L 236.509749 267.575309 
z
" clip-path="url(#b_p4ff11a3262)" style="fill: #206556"/>
    <path d="M 203.877967 273.22241 
L 203.911907 219.56775 
L 216.662146 208.116564 
L 216.26898 261.179601 
z
" clip-path="url(#b_p4ff11a3262)" style="fill: #44d6b6"/>
    <path d="M 162.897008 206.328002 
L 183.210469 212.386761 
L 196.208687 201.161062 
L 176.125325 195.310241 
z
" clip-path="url(#b_p4ff11a3262)" style="fill: #139dae"/>
    <path d="M 224.356962 279.842966 
L 236.509749 267.575309 
L 237.499988 214.196636 
L 225.002381 225.867979 
z
" clip-path="url(#b_p4ff11a3262)" style="fill: #206556"/>
    <path d="M 203.877967 273.22241 
L 224.356962 279.842966 
L 225.002381 225.867979 
L 203.911907 219.56775 
z
" clip-path="url(#b_p4ff11a3262)" style="fill: #44d6b6"/>
    <path d="M 203.911907 219.56775 
L 225.002381 225.867979 
L 237.499988 214.196636 
L 216.662146 208.116564 
z
" clip-path="url(#b_p4ff11a3262)" style="fill: #3bba9e"/>
   </g>
   <g id="b_text_16">
    <text style="font-size: 12px; font-family: 'DejaVu Sans', sans-serif; text-anchor: middle" x="200.000" y="94.404" transform="rotate(-0 200.000 94.404)">NCP curing time</text>
   </g>
  </g>
 </g>
 <defs>
  <clipPath id="b_p4ff11a3262">
   <rect x="99" y="99" width="202" height="202"/>
  </clipPath>
 </defs>
</svg>

<div class="lab" style="left:121.4px;top:274.2px">(<b>a</b>)</div>
<div class="lab" style="left:413.6px;top:274.2px">(<b>b</b>)</div>
</body></html>
